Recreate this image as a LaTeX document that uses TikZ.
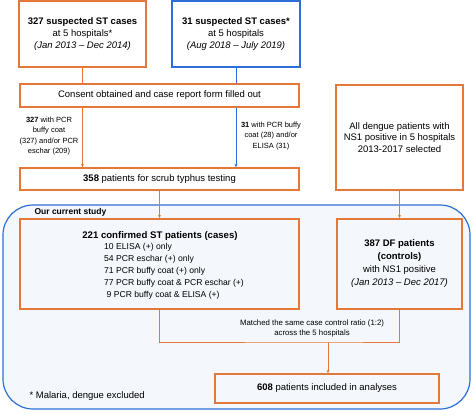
\documentclass[tikz,border=0pt]{standalone}
\usepackage{fontspec}
\setmainfont{Liberation Sans}
\usetikzlibrary{arrows.meta,positioning}

\definecolor{boxorange}{RGB}{226,121,58}
\definecolor{boxblue}{RGB}{45,110,215}
\definecolor{studyfill}{RGB}{244,247,251}

\begin{document}
\begin{tikzpicture}[x=1pt,y=-1pt,
      box/.style={draw=boxorange,line width=1.4pt,inner sep=2pt,align=center,
        font=\fontsize{9.5}{11.8}\selectfont},
      bluebox/.style={box,draw=boxblue},
      studyarea/.style={draw=boxblue,fill=studyfill,line width=1.2pt,rounded corners=30pt},
      link/.style={draw=boxorange,line width=0.9pt},
      bluelink/.style={draw=boxblue,line width=0.9pt},
      note/.style={align=center,font=\fontsize{7.5}{10.2}\selectfont},
      >={Stealth[length=3.5pt,width=3pt]}
    ]
    \useasboundingbox (0,0) rectangle (474,415);

    % Study region
    \node[studyarea,minimum width=467pt,minimum height=204pt] (study) at (236.5,307) {};
    \node[anchor=west,font=\fontsize{8.5}{10}\selectfont\bfseries] (studylbl) at (31,212) {Our current study};

    % Recruitment
    \node[box,minimum width=127pt,minimum height=66pt] (early) at (82.5,34)
      {\textbf{327 suspected ST cases}\\at 5 hospitals*\\\textit{(Jan 2013 -- Dec 2014)}};
    \node[bluebox,minimum width=128pt,minimum height=66pt] (late) at (236,34)
      {\textbf{31 suspected ST cases*}\\at 5 hospitals\\\textit{(Aug 2018 -- July 2019)}};
    \node[box,minimum width=279pt,minimum height=23pt] (consent) at (159.5,95.5)
      {Consent obtained and case report form filled out};
    \node[box,minimum width=279pt,minimum height=22pt] (tested) at (159.5,179)
      {\textbf{358} patients for scrub typhus testing};
    \node[box,minimum width=127pt,minimum height=105pt] (dengue) at (399.5,137.5)
      {All dengue patients with\\NS1 positive in 5 hospitals\\2013-2017 selected};

    \draw[link] (early) -- (early |- consent.north);
    \draw[bluelink] (late) -- (late |- consent.north);
    \draw[link,->] (early |- consent.south) -- (early |- tested.north);
    \draw[bluelink,->] (late |- consent.south) -- (late |- tested.north);

    \node[note] (earlylbl) at (49,136)
      {\textbf{327} with PCR\\buffy coat\\(327) and/or PCR\\eschar (209)};
    \node[note] (latelbl) at (271,136)
      {\textbf{31} with PCR buffy\\coat (28) and/or\\ELISA (31)};

    % Cases and controls
    \node[box,minimum width=279pt,minimum height=90pt] (cases) at (159.5,264) {};
    \node[font=\fontsize{9.6}{11}\selectfont\bfseries] (casestitle) at (160,236)
      {221 confirmed ST patients (cases)};
    \node[anchor=north west,inner sep=0pt,align=left,font=\fontsize{8.6}{12}\selectfont] (caselist) at (104,243)
      {10 ELISA (+) only\\54 PCR eschar (+) only\\71 PCR buffy coat (+) only\\
       77 PCR buffy coat \& PCR eschar (+)\\\hspace*{2.5pt}9 PCR buffy coat \& ELISA (+)};
    \node[box,minimum width=125pt,minimum height=90pt,font=\fontsize{9.5}{13}\selectfont] (controls) at (399.5,264)
      {\textbf{387 DF patients}\\\textbf{(controls)}\\with NS1 positive\\\textit{(Jan 2013 -- Dec 2017)}};

    \draw[link,->] (tested.south -| cases) -- (cases.north);
    \draw[link,->] (dengue.south) -- (controls.north);

    % Matching
    \coordinate (match) at (328,342);
    \draw[link] (cases.south) |- (match) -| (controls.south);
    \node[note,font=\fontsize{7.8}{9.5}\selectfont] (matchlbl) at (312,328.5)
      {Matched the same case control ratio (1:2)\\across the 5 hospitals};
    \node[box,minimum width=224pt,minimum height=29pt] (final) at (327,388.5)
      {\textbf{608} patients included in analyses};
    \draw[link,->] (match) -- (match |- final.north);

    % Footnote
    \node[anchor=west,font=\fontsize{9.5}{11}\selectfont] (foot) at (26,396) {* Malaria, dengue excluded};

  \end{tikzpicture}
\end{document}
